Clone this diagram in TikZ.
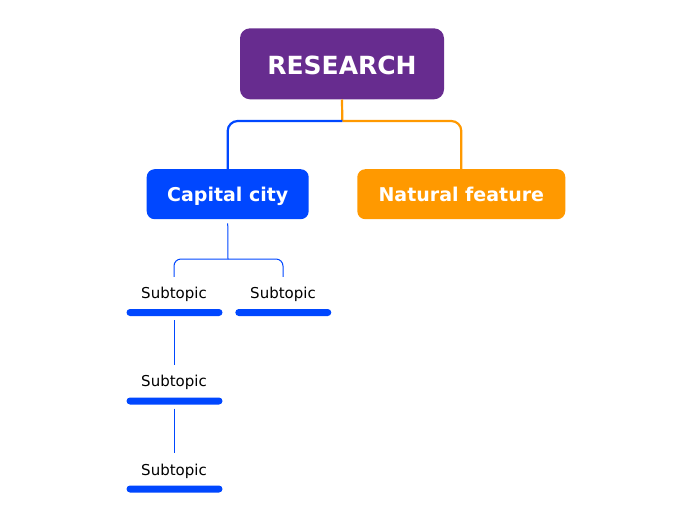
\documentclass[tikz,border=0pt]{standalone}
\usepackage{fontspec}
\setmainfont{DejaVu Sans}
\definecolor{rootpurple}{RGB}{103,44,143}
\definecolor{capblue}{RGB}{0,71,255}
\definecolor{natorange}{RGB}{255,153,0}
\begin{document}
\begin{tikzpicture}[
    x=1pt, y=-1pt,
    rootbox/.style={
        fill=rootpurple, rounded corners=10pt,
        minimum width=204pt, minimum height=71pt, inner sep=0pt,
        text=white, font=\bfseries\fontsize{25}{30}\selectfont,
        text height=20.5pt, text depth=0pt
    },
    mainbox/.style={
        rounded corners=8pt,
        minimum height=50pt, inner sep=0pt,
        text=white, font=\bfseries\fontsize{19}{22}\selectfont,
        text height=15pt, text depth=0pt
    },
    subtext/.style={
        anchor=base, inner sep=0pt, font=\fontsize{15}{18}\selectfont
    },
    subbar/.style={
        fill=capblue, rounded corners=3.5pt, inner sep=0pt,
        minimum width=96pt, minimum height=7pt
    },
    mainlink/.style={
        line width=2.2pt, rounded corners=10pt
    },
    sublink/.style={
        capblue, line width=1pt, rounded corners=7pt
    }
]
\useasboundingbox (0,0) rectangle (696,520);

% Central topic
\node[rootbox] (root) at (342,63.8) {RESEARCH};

% Main topics
\node[mainbox, fill=capblue, minimum width=162pt]    (capital) at (227.7,194.2) {Capital city};
\node[mainbox, fill=natorange, minimum width=208pt] (natural) at (461.3,194.2) {Natural feature};

% Subtopics
\node[subtext] (sub1) at (174,298.5) {Subtopic};
\node[subbar]  (bar1) at (174.5,312.5) {};
\node[subtext] (sub2) at (283,298.5) {Subtopic};
\node[subbar]  (bar2) at (283.3,312.5) {};
\node[subtext] (sub3) at (174,386.5) {Subtopic};
\node[subbar]  (bar3) at (174.5,401) {};
\node[subtext] (sub4) at (174,475) {Subtopic};
\node[subbar]  (bar4) at (174.5,489) {};

% Branches from the central topic
\coordinate (split) at (342.3,121);
\draw[mainlink, natorange] (root.south) -- (split);
\draw[mainlink, natorange] (split) -| (natural.north);
\draw[mainlink, capblue] (split) -| (capital.north);

% Branches to the subtopics
\coordinate (subsplit) at (228,259);
\draw[sublink, shorten <=4pt] (capital.south) -- (subsplit);
\draw[sublink, shorten >=10pt] (subsplit) -| (sub1.north);
\draw[sublink, shorten >=10pt] (subsplit) -| (sub2.north);
\draw[sublink, shorten <=4pt, shorten >=10pt] (bar1.south -| sub1) -- (sub3.north);
\draw[sublink, shorten <=4pt, shorten >=10pt] (bar3.south -| sub3) -- (sub4.north);

\end{tikzpicture}
\end{document}
